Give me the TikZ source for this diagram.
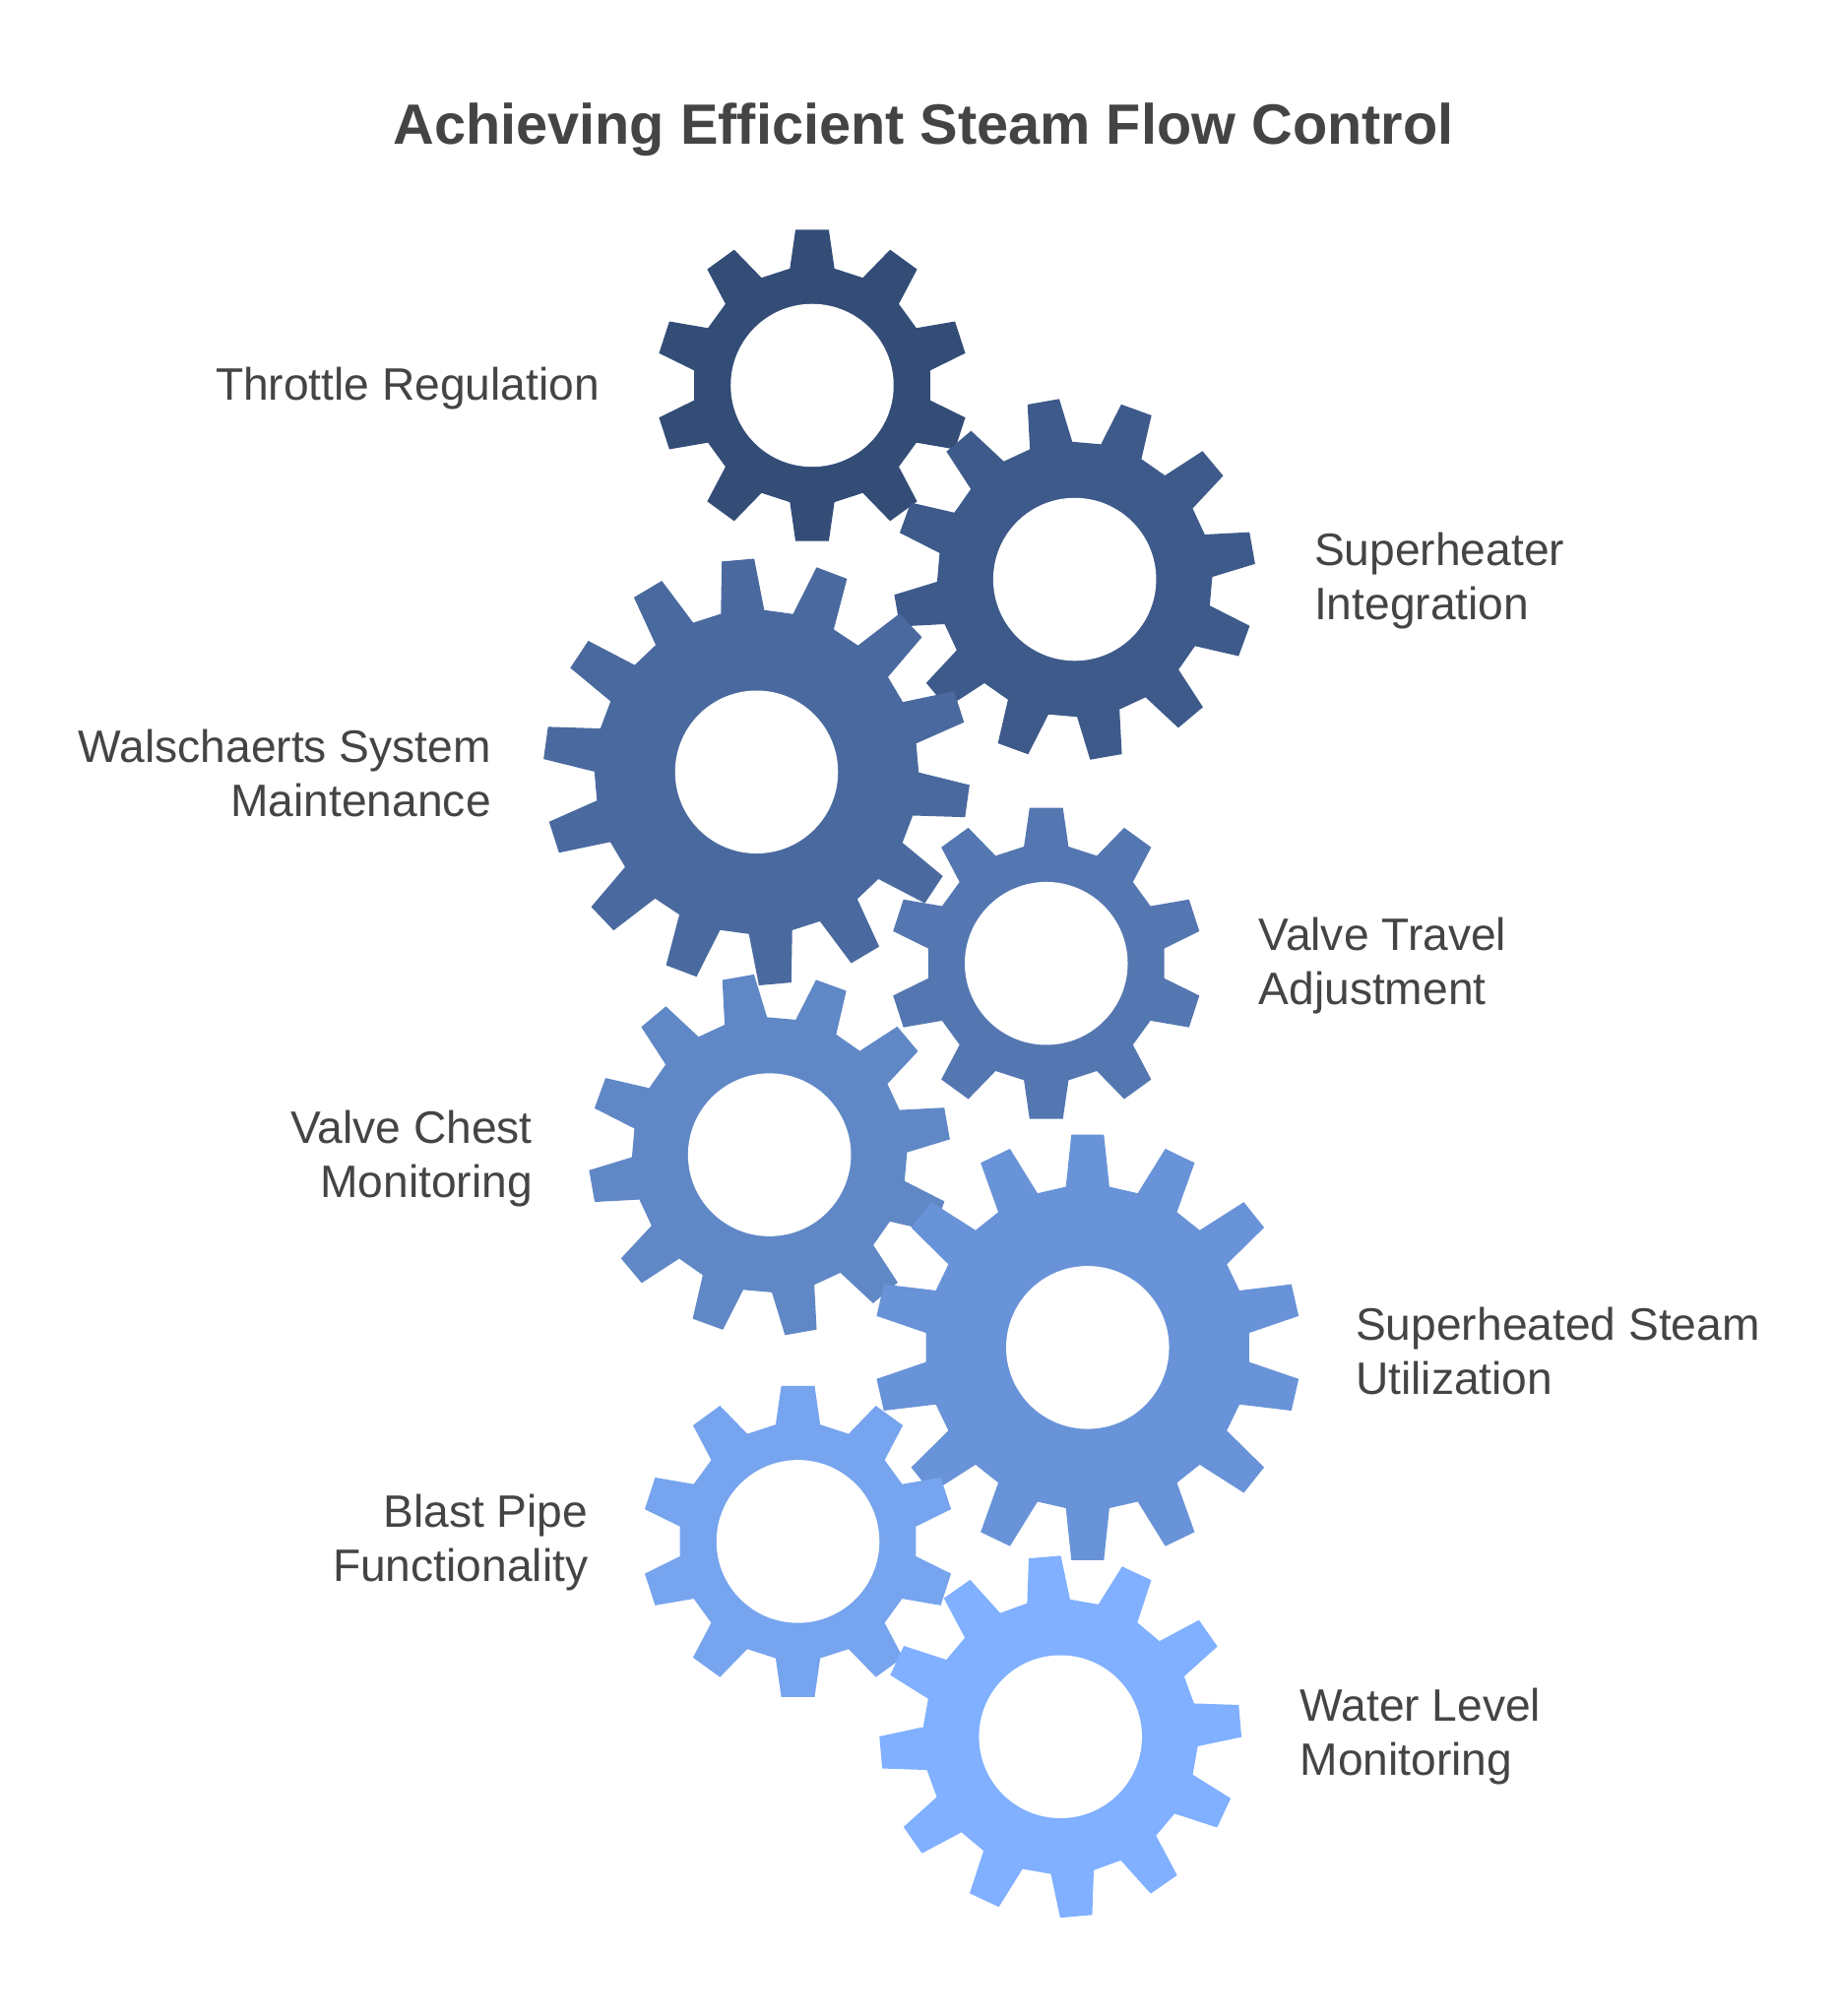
\documentclass[tikz,border=0pt]{standalone}
\usepackage{fontspec}
\setmainfont{Liberation Sans}
\usetikzlibrary{positioning}
\definecolor{txt}{HTML}{444444}
\definecolor{gA}{HTML}{334D77}
\definecolor{gB}{HTML}{3D5A8A}
\definecolor{gC}{HTML}{4A6A9F}
\definecolor{gD}{HTML}{5577B1}
\definecolor{gE}{HTML}{6088C6}
\definecolor{gF}{HTML}{6993D8}
\definecolor{gG}{HTML}{77A4EE}
\definecolor{gH}{HTML}{80B0FF}
% gear: name, x, y, outer radius, teeth, colour, rotation
\newcommand{\gearshape}[7]{%
  \pgfmathsetmacro{\gp}{360/#5}
  \pgfmathsetmacro{\gr}{#4*0.76}
  \fill[#6] ([shift={(#2,#3)}]#7-0.3*\gp:\gr)
    \foreach \k in {1,...,#5}{
      -- ([shift={(#2,#3)}]#7+\k*\gp-\gp-0.3*\gp:\gr)
      -- ([shift={(#2,#3)}]#7+\k*\gp-\gp-0.17*\gp:#4)
      -- ([shift={(#2,#3)}]#7+\k*\gp-\gp+0.17*\gp:#4)
      -- ([shift={(#2,#3)}]#7+\k*\gp-\gp+0.3*\gp:\gr)
    } -- cycle;
  \fill[white] (#2,#3) circle (63);
  \coordinate (#1) at (#2,#3);}
\begin{document}
\begin{tikzpicture}[x=0.02cm, y=-0.02cm,
    label/.style = {text=txt, font=\fontsize{20}{24}\selectfont, inner sep=0pt},
    left lab/.style = {label, align=right, anchor=east},
    right lab/.style = {label, align=left, anchor=west}]
    \useasboundingbox (0,0) rectangle (1420,1559);

    \node[text=txt, font=\fontsize{25}{29}\selectfont\bfseries] (title) at (714,100) {Achieving Efficient Steam Flow Control};

    % gears from top to bottom
    \gearshape{g1}{628}{298}{121}{10}{gA}{90}
    \gearshape{g2}{831}{448}{140}{12}{gB}{80}
    \gearshape{g3}{585}{597}{165}{14}{gC}{85}
    \gearshape{g4}{809}{745}{121}{10}{gD}{90}
    \gearshape{g5}{595}{893}{140}{12}{gE}{80}
    \gearshape{g6}{841}{1042}{165}{14}{gF}{90}
    \gearshape{g7}{617}{1192}{121}{10}{gG}{90}
    \gearshape{g8}{820}{1343}{140}{12}{gH}{85}

    % labels
    \node[left lab]  (l1) at (464,300)  {Throttle Regulation};
    \node[right lab] (l2) at (1016,449) {Superheater\\Integration};
    \node[left lab]  (l3) at (380,598)  {Walschaerts System\\Maintenance};
    \node[right lab] (l4) at (973,747)  {Valve Travel\\Adjustment};
    \node[left lab]  (l5) at (412,896)  {Valve Chest\\Monitoring};
    \node[right lab] (l6) at (1048,1045) {Superheated Steam\\Utilization};
    \node[left lab]  (l7) at (455,1193) {Blast Pipe\\Functionality};
    \node[right lab] (l8) at (1005,1343) {Water Level\\Monitoring};
\end{tikzpicture}
\end{document}
